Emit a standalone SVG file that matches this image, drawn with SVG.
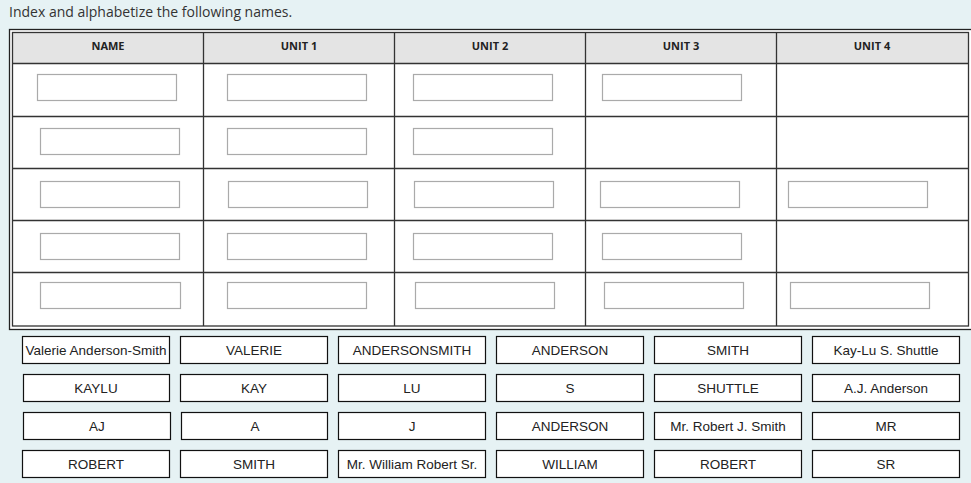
<svg xmlns="http://www.w3.org/2000/svg" width="971" height="483" viewBox="0 0 971 483">
<style>
.h{font-family:"Open Sans","Liberation Sans",sans-serif;font-size:11px;font-weight:bold;fill:#222;text-anchor:middle}
.g{stroke:#333;stroke-width:1.3;fill:none}
.in{fill:#fff;stroke:#aaa;stroke-width:1.2}
.t rect{fill:#fff;stroke:#111;stroke-width:1.2}
.t text{font-family:"Liberation Sans",Arial,sans-serif;font-size:13.5px;fill:#222;text-anchor:middle}
</style>
<rect width="971" height="483" fill="#e6f2f4"/>
<text x="9" y="17" font-family="Open Sans,Liberation Sans,sans-serif" font-size="14" fill="#333">Index and alphabetize the following names.</text>
<g id="table">
<rect x="9.5" y="29.5" width="970" height="300" fill="#fff" stroke="#222" stroke-width="1.3"/>
<rect x="12.5" y="32.5" width="956" height="31" fill="#e4e4e4"/>
<rect x="12.5" y="32.5" width="956" height="293.5" class="g"/>
<path class="g" d="M12 63.5H968M12 116.5H968M12 168.5H968M12 220.5H968M12 272.5H968M203.5 32V326M394.5 32V326M585.5 32V326M776.5 32V326"/>
<text class="h" x="108" y="50">NAME</text><text class="h" x="299" y="50">UNIT 1</text><text class="h" x="490" y="50">UNIT 2</text><text class="h" x="681" y="50">UNIT 3</text><text class="h" x="872" y="50">UNIT 4</text>
<rect class="in" x="37.5" y="74.5" width="139" height="26"/><rect class="in" x="227.5" y="74.5" width="139" height="26"/><rect class="in" x="413.5" y="74.5" width="139" height="26"/><rect class="in" x="602.5" y="74.5" width="139" height="26"/>
<rect class="in" x="40.5" y="128.5" width="139" height="26"/><rect class="in" x="227.5" y="128.5" width="139" height="26"/><rect class="in" x="413.5" y="128.5" width="139" height="26"/>
<rect class="in" x="40.5" y="181.5" width="139" height="26"/><rect class="in" x="228.5" y="181.5" width="139" height="26"/><rect class="in" x="414.5" y="181.5" width="139" height="26"/><rect class="in" x="600.5" y="181.5" width="139" height="26"/><rect class="in" x="788.5" y="181.5" width="139" height="26"/>
<rect class="in" x="40.5" y="233.5" width="139" height="26"/><rect class="in" x="227.5" y="233.5" width="139" height="26"/><rect class="in" x="413.5" y="233.5" width="139" height="26"/><rect class="in" x="602.5" y="233.5" width="139" height="26"/>
<rect class="in" x="40.5" y="282.5" width="140" height="26"/><rect class="in" x="227.5" y="282.5" width="139" height="26"/><rect class="in" x="415.5" y="282.5" width="139" height="26"/><rect class="in" x="604.5" y="282.5" width="139" height="26"/><rect class="in" x="790.5" y="282.5" width="139" height="26"/>
</g>
<g class="t">
<g id="r1"><rect x="22.5" y="336.5" width="147" height="27"/><text x="96" y="354.5">Valerie Anderson-Smith</text>
<rect x="180.5" y="336.5" width="147" height="27"/><text x="254" y="354.5">VALERIE</text>
<rect x="338.5" y="336.5" width="147" height="27"/><text x="412" y="354.5">ANDERSONSMITH</text>
<rect x="496.5" y="336.5" width="147" height="27"/><text x="570" y="354.5">ANDERSON</text>
<rect x="654.5" y="336.5" width="147" height="27"/><text x="728" y="354.5">SMITH</text>
<rect x="812.5" y="336.5" width="147" height="27"/><text x="886" y="354.5">Kay-Lu S. Shuttle</text></g>
<g id="r2"><rect x="23.5" y="374.5" width="146" height="27"/><text x="96" y="392.5">KAYLU</text>
<rect x="180.5" y="374.5" width="147" height="27"/><text x="254" y="392.5">KAY</text>
<rect x="338.5" y="374.5" width="147" height="27"/><text x="412" y="392.5">LU</text>
<rect x="496.5" y="374.5" width="147" height="27"/><text x="570" y="392.5">S</text>
<rect x="654.5" y="374.5" width="147" height="27"/><text x="728" y="392.5">SHUTTLE</text>
<rect x="812.5" y="374.5" width="147" height="27"/><text x="886" y="392.5">A.J. Anderson</text></g>
<g id="r3"><rect x="23.5" y="412.5" width="147" height="27"/><text x="97" y="430.5">AJ</text>
<rect x="181.5" y="412.5" width="146" height="27"/><text x="255" y="430.5">A</text>
<rect x="338.5" y="412.5" width="147" height="27"/><text x="412" y="430.5">J</text>
<rect x="496.5" y="412.5" width="147" height="27"/><text x="570" y="430.5">ANDERSON</text>
<rect x="654.5" y="412.5" width="147" height="27"/><text x="728" y="430.5">Mr. Robert J. Smith</text>
<rect x="812.5" y="412.5" width="147" height="27"/><text x="886" y="430.5">MR</text></g>
<g id="r4"><rect x="22.5" y="450.5" width="147" height="27"/><text x="96" y="468.5">ROBERT</text>
<rect x="180.5" y="450.5" width="147" height="27"/><text x="254" y="468.5">SMITH</text>
<rect x="338.5" y="450.5" width="147" height="27"/><text x="412" y="468.5">Mr. William Robert Sr.</text>
<rect x="496.5" y="450.5" width="147" height="27"/><text x="570" y="468.5">WILLIAM</text>
<rect x="654.5" y="450.5" width="147" height="27"/><text x="728" y="468.5">ROBERT</text>
<rect x="812.5" y="450.5" width="147" height="27"/><text x="886" y="468.5">SR</text></g>
</g>
</svg>
